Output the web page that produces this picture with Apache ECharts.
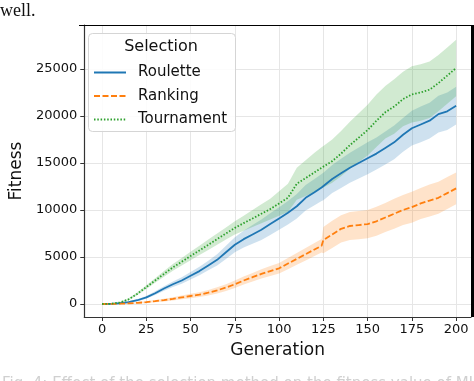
<!DOCTYPE html>
<html>
<head>
<meta charset="utf-8">
<script src="https://cdn.jsdelivr.net/npm/echarts@6/dist/echarts.min.js"></script>
<style>
html,body{margin:0;padding:0;background:#fff;}
#chart{width:474px;height:381px;}
</style>
</head>
<body>
<div id="chart"></div>
<script>
// ---- data ----
var generations = [0,5,10,15,20,25,30,35,40,45,50,55,60,65,70,75,80,85,90,95,100,105,110,115,120,124,125,130,135,140,145,150,155,160,165,170,175,180,185,190,195,200];
var roulette = [0,20,80,200,400,700,1150,1650,2100,2500,3000,3500,4100,4700,5500,6300,6900,7400,7900,8500,9100,9700,10400,11300,11900,12400,12500,13300,13900,14500,15000,15500,16000,16600,17200,18000,18700,19100,19500,20200,20500,21100];
var rouletteSpread = [0,20,50,80,120,150,200,250,300,350,400,450,500,600,700,800,900,1000,1100,1150,1200,1250,1300,1350,1400,1440,1450,1500,1550,1600,1650,1700,1700,1750,1800,1800,1850,1900,1900,1950,2000,2000];
var ranking = [0,10,30,60,120,200,300,420,550,700,850,1000,1200,1450,1750,2100,2500,2850,3200,3500,3800,4300,4800,5300,5800,6200,6800,7400,8000,8300,8400,8500,8800,9200,9600,10000,10300,10700,11000,11300,11800,12300];
var rankingSpread = [0,10,30,50,80,100,120,150,180,200,230,260,300,330,360,400,430,460,500,530,560,600,630,660,700,720,1400,1450,1450,1500,1500,1500,1550,1550,1600,1600,1650,1650,1700,1700,1700,1700];
var tournament = [0,20,150,500,1100,1800,2500,3200,3900,4500,5100,5700,6300,6900,7500,8100,8600,9100,9600,10100,10700,11300,12800,13400,14000,14500,14600,15200,16000,16900,17700,18500,19500,20400,21000,21800,22300,22500,22800,23500,24300,25100];
var tournamentSpread = [0,20,60,100,150,200,250,300,350,400,450,500,550,600,650,700,800,900,1000,1100,1300,1500,1700,1900,2100,2180,2200,2300,2400,2500,2600,2700,2800,2800,2900,2900,3000,3000,3000,3000,3000,3000];
var xTicks = [0,25,50,75,100,125,150,175,200];
var yTicks = [0,5000,10000,15000,20000,25000];
var seriesNames = ['Roulette','Ranking','Tournament'];

var FONT = 'DejaVu Sans';
var colors = ['#1f77b4','#ff7f0e','#2ca02c'];
var bandColors = ['rgba(31,119,180,0.22)','rgba(255,127,14,0.22)','rgba(44,160,44,0.22)'];
var dashes = ['solid',[6,2.5],[1.5,1.8]];

function pairs(vals){ return generations.map(function(g,i){ return [g, vals[i]]; }); }

var means = [roulette, ranking, tournament];
var spreads = [rouletteSpread, rankingSpread, tournamentSpread];
var series = [];
function bandRenderer(k){
  return function(params, api){
    var m = means[k], s = spreads[k], pts = [], i;
    for (i=0;i<generations.length;i++) pts.push(api.coord([generations[i], m[i]+s[i]]));
    for (i=generations.length-1;i>=0;i--) pts.push(api.coord([generations[i], m[i]-s[i]]));
    return {type:'polygon', shape:{points:pts}, style:{fill:bandColors[k]}, silent:true};
  };
}
for (var k=0;k<3;k++){
  series.push({
    name:'band'+k, type:'custom', data:[[generations[0], means[k][0]]],
    renderItem: bandRenderer(k), silent:true, z:1, clip:true
  });
  series.push({
    name: seriesNames[k], type:'line', data: pairs(means[k]), symbol:'none',
    lineStyle:{color:colors[k], width:1.8, type:dashes[k]}, itemStyle:{color:colors[k]}, z:2
  });
}

var chart = echarts.init(document.getElementById('chart'), null, {renderer:'canvas'});
chart.setOption({
  animation:false,
  backgroundColor:'#fff',
  grid:{left:80, top:25, right:3, bottom:64, containLabel:false},
  xAxis:{
    type:'value', min:-10.06, max:208.4,
    name:'Generation', nameLocation:'middle', nameGap:25,
    nameTextStyle:{fontFamily:FONT, fontSize:17, color:'#111'},
    axisLine:{onZero:false, lineStyle:{color:'#333', width:1.2}},
    axisTick:{show:true, length:4, customValues:xTicks, lineStyle:{color:'#333'}},
    axisLabel:{customValues:xTicks, margin:6, fontFamily:FONT, fontSize:13, color:'#111',
      formatter:function(v){ return String(v); }},
    splitLine:{show:true, lineStyle:{color:'#e6e6e6', width:1}}
  },
  yAxis:{
    type:'value', min:-1383, max:29681,
    name:'Fitness', nameLocation:'middle', nameGap:56, nameRotate:90,
    nameTextStyle:{fontFamily:FONT, fontSize:17, color:'#111'},
    axisLine:{show:true, onZero:false, lineStyle:{color:'#333', width:1.2}},
    axisTick:{show:true, length:4, customValues:yTicks, lineStyle:{color:'#333'}},
    axisLabel:{customValues:yTicks, margin:7, fontFamily:FONT, fontSize:13, color:'#111',
      formatter:function(v){ return String(v); }},
    splitLine:{show:true, lineStyle:{color:'#e6e6e6', width:1}}
  },
  legend:{
    data:seriesNames, orient:'vertical', left:93, top:65, padding:0,
    itemWidth:32, itemHeight:14, itemGap:8.5,
    itemStyle:{opacity:0},
    textStyle:{fontFamily:FONT, fontSize:15, color:'#111', lineHeight:14, padding:[0,0,0,7]},
    z:10
  },
  graphic:[
    {type:'rect', z:5, shape:{x:88.5, y:33.5, width:147, height:98, r:4},
     style:{fill:'rgba(255,255,255,0.85)', stroke:'#d5d5d5', lineWidth:1}},
    {type:'text', z:6, style:{x:161, y:47, text:'Selection', fill:'#111', font:'16px "DejaVu Sans"', textAlign:'center', textVerticalAlign:'middle'}},
    {type:'line', z:6, shape:{x1:79, y1:25.5, x2:474, y2:25.5}, style:{stroke:'#000', lineWidth:1.2}},
    {type:'rect', z:6, shape:{x:471, y:25, width:3, height:292}, style:{fill:'#000'}},
    {type:'text', z:6, style:{x:0, y:2, text:'well.', fill:'#111', font:'18px "Liberation Serif"'}},
    {type:'text', z:6, style:{x:2, y:377, text:'Fig. 4: Effect of the selection method on the fitness value of MUTA for', fill:'#d0d0d0', font:'15px "DejaVu Sans"'}}
  ],
  series:series
});
</script>
</body>
</html>
